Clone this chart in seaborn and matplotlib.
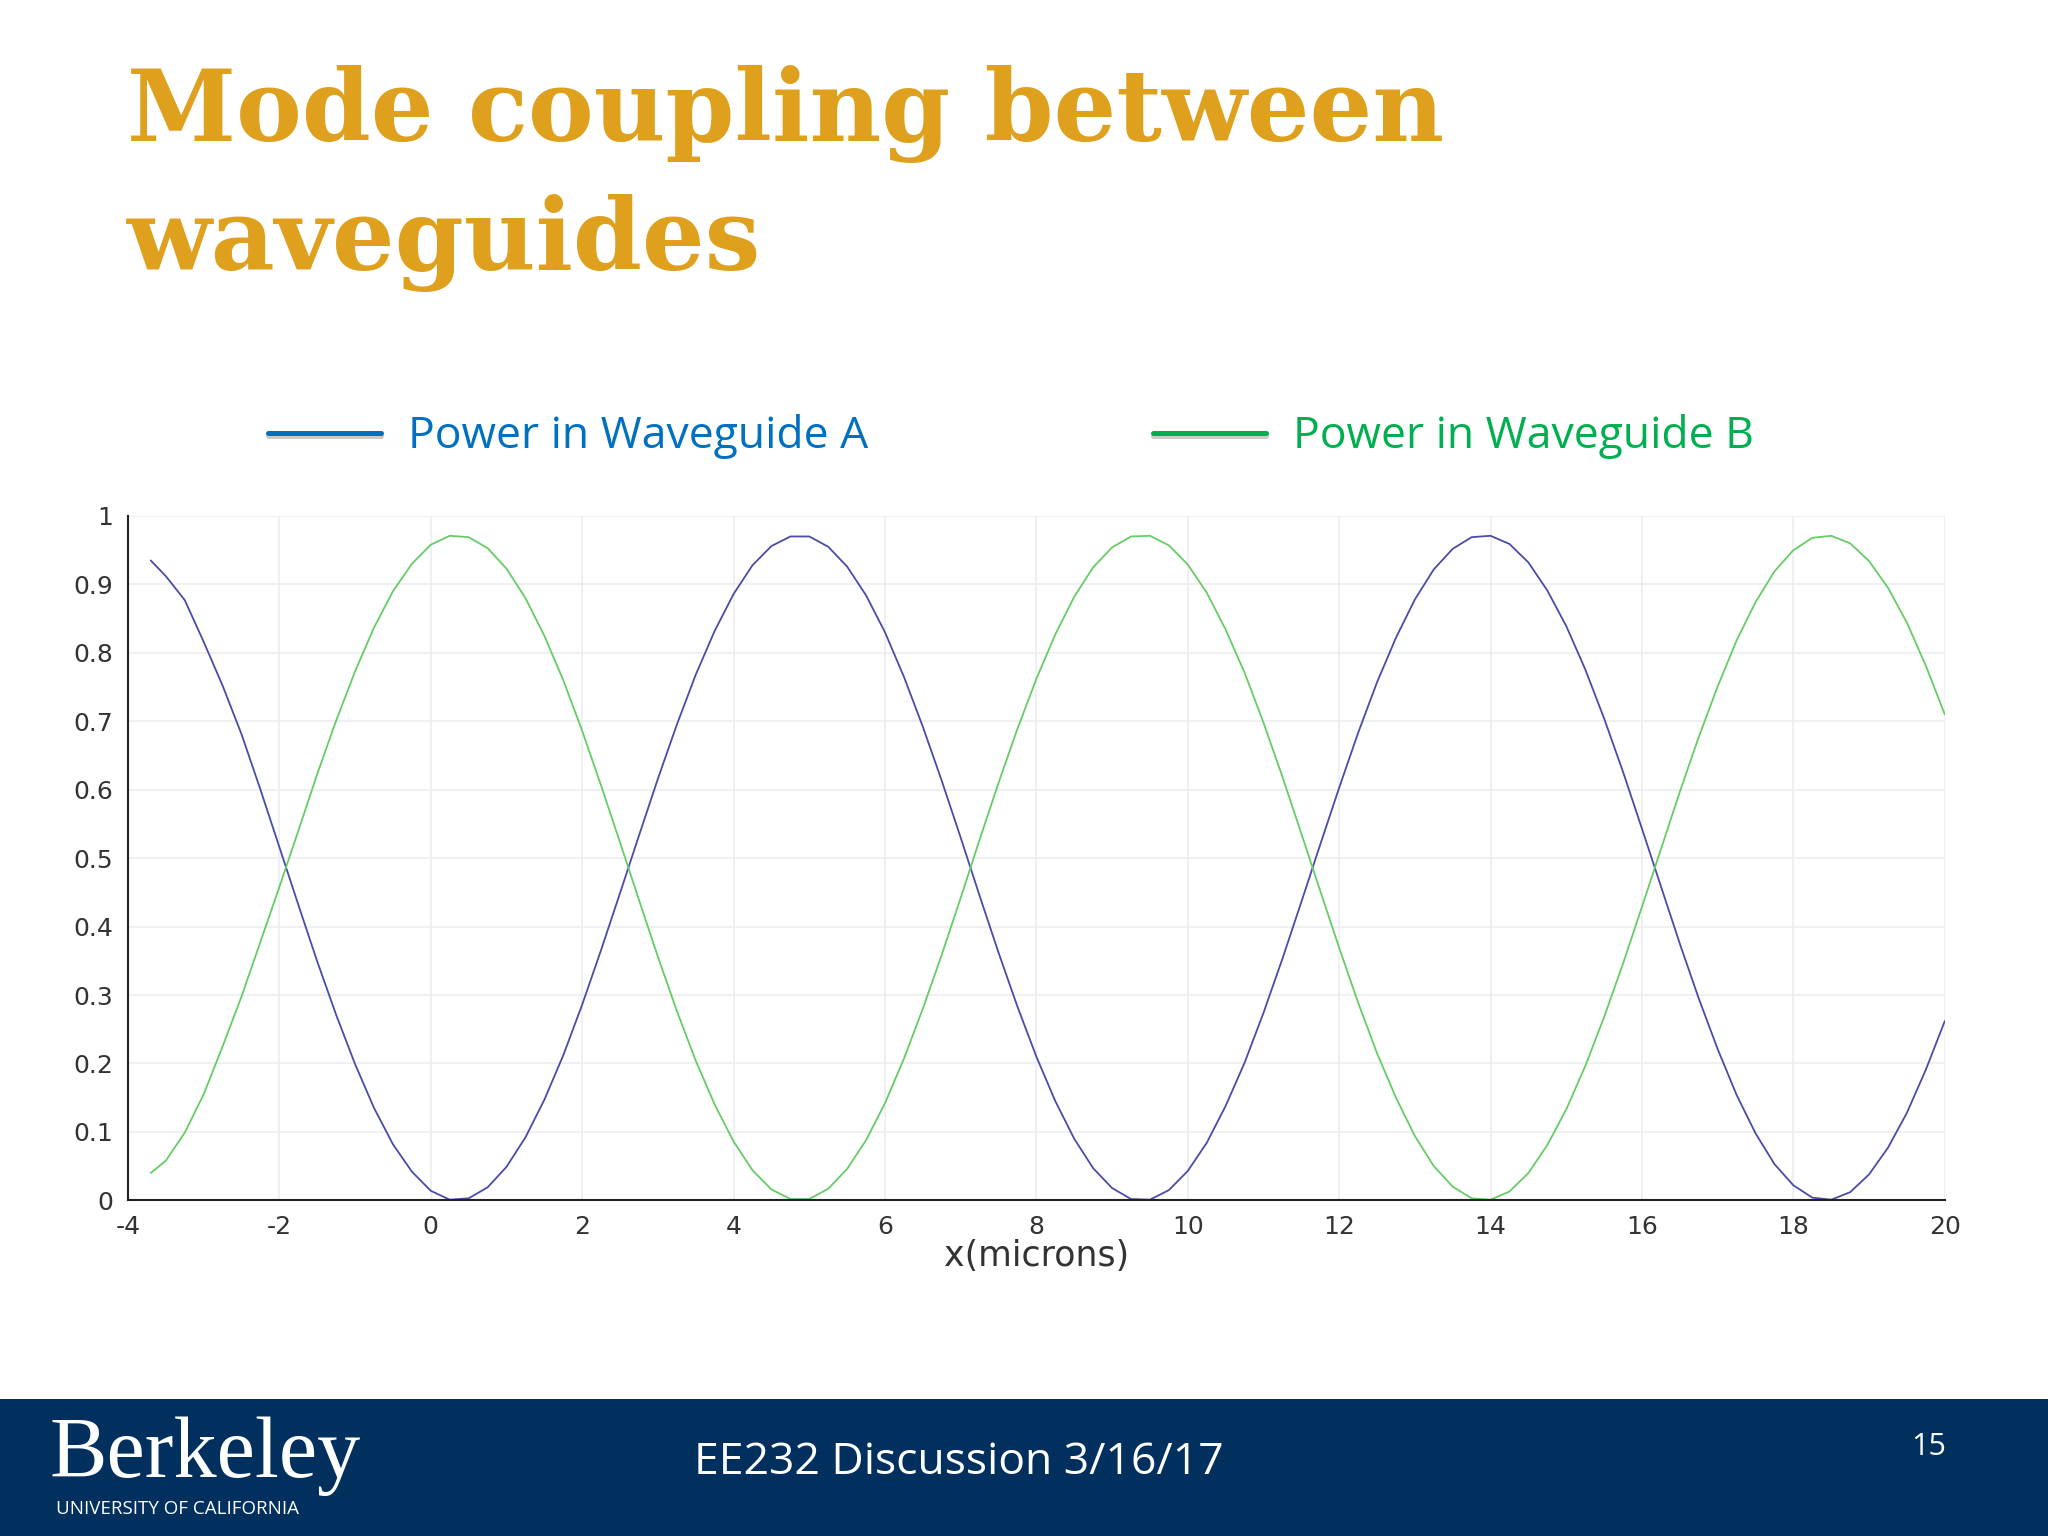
import numpy as np
import pandas as pd
import matplotlib
matplotlib.use("Agg")
import matplotlib.pyplot as plt
import matplotlib.patheffects as pe
from matplotlib.lines import Line2D
from matplotlib.patches import Rectangle
import seaborn as sns

# Data: power in each guide along x (microns)
x_microns = [-3.7, -3.5, -3.25, -3.0, -2.75, -2.5, -2.25, -2.0, -1.75, -1.5, -1.25, -1.0,
             -0.75, -0.5, -0.25, 0.0, 0.25, 0.5, 0.75, 1.0, 1.25, 1.5, 1.75, 2.0,
             2.25, 2.5, 2.75, 3.0, 3.25, 3.5, 3.75, 4.0, 4.25, 4.5, 4.75, 5.0,
             5.25, 5.5, 5.75, 6.0, 6.25, 6.5, 6.75, 7.0, 7.25, 7.5, 7.75, 8.0,
             8.25, 8.5, 8.75, 9.0, 9.25, 9.5, 9.75, 10.0, 10.25, 10.5, 10.75, 11.0,
             11.25, 11.5, 11.75, 12.0, 12.25, 12.5, 12.75, 13.0, 13.25, 13.5, 13.75, 14.0,
             14.25, 14.5, 14.75, 15.0, 15.25, 15.5, 15.75, 16.0, 16.25, 16.5, 16.75, 17.0,
             17.25, 17.5, 17.75, 18.0, 18.25, 18.5, 18.75, 19.0, 19.25, 19.5, 19.75, 20.0]

power_a = [0.935, 0.912, 0.877, 0.816, 0.752, 0.681, 0.600, 0.516, 0.432, 0.349, 0.271, 0.199,
           0.135, 0.082, 0.042, 0.014, 0.001, 0.003, 0.019, 0.049, 0.092, 0.147, 0.212, 0.286,
           0.366, 0.449, 0.533, 0.616, 0.695, 0.768, 0.832, 0.886, 0.928, 0.956, 0.970, 0.970,
           0.955, 0.926, 0.884, 0.830, 0.765, 0.692, 0.613, 0.530, 0.445, 0.362, 0.283, 0.210,
           0.145, 0.090, 0.047, 0.018, 0.002, 0.001, 0.015, 0.043, 0.084, 0.138, 0.201, 0.274,
           0.353, 0.436, 0.520, 0.603, 0.683, 0.757, 0.822, 0.878, 0.922, 0.952, 0.969, 0.971,
           0.959, 0.932, 0.891, 0.839, 0.776, 0.704, 0.626, 0.543, 0.459, 0.375, 0.295, 0.221,
           0.154, 0.098, 0.053, 0.022, 0.004, 0.001, 0.012, 0.038, 0.077, 0.128, 0.191, 0.262]

power_b = [0.040, 0.058, 0.099, 0.155, 0.225, 0.298, 0.378, 0.458, 0.540, 0.623, 0.701, 0.773,
           0.837, 0.890, 0.930, 0.958, 0.971, 0.969, 0.953, 0.923, 0.880, 0.825, 0.760, 0.686,
           0.606, 0.523, 0.439, 0.356, 0.277, 0.204, 0.140, 0.086, 0.044, 0.016, 0.002, 0.002,
           0.017, 0.046, 0.088, 0.142, 0.207, 0.280, 0.359, 0.442, 0.527, 0.610, 0.689, 0.762,
           0.827, 0.882, 0.925, 0.954, 0.970, 0.971, 0.957, 0.929, 0.888, 0.834, 0.771, 0.698,
           0.619, 0.536, 0.452, 0.369, 0.289, 0.215, 0.150, 0.094, 0.050, 0.020, 0.003, 0.001,
           0.013, 0.040, 0.081, 0.133, 0.196, 0.268, 0.346, 0.429, 0.513, 0.597, 0.677, 0.751,
           0.818, 0.874, 0.919, 0.950, 0.968, 0.971, 0.960, 0.934, 0.895, 0.844, 0.781, 0.710]

x_ticks = [-4, -2, 0, 2, 4, 6, 8, 10, 12, 14, 16, 18, 20]
y_ticks = [0, 0.1, 0.2, 0.3, 0.4, 0.5, 0.6, 0.7, 0.8, 0.9, 1]
y_tick_labels = ["0", "0.1", "0.2", "0.3", "0.4", "0.5", "0.6", "0.7", "0.8", "0.9", "1"]
legend_labels = ["Power in Waveguide A", "Power in Waveguide B"]

sns.set_style("white")
plt.rcParams["font.family"] = ["DejaVu Sans"]

df = pd.DataFrame({"x": x_microns, "A": power_a, "B": power_b})

fig = plt.figure(figsize=(20.48, 15.36), dpi=100)
fig.patch.set_facecolor("white")

# title
gold = "#DFA01E"
fig.text(0.062, 0.908, "Mode coupling between", family="DejaVu Serif", weight="bold",
         fontsize=71, color=gold, va="baseline", ha="left")
fig.text(0.062, 0.824, "waveguides", family="DejaVu Serif", weight="bold",
         fontsize=71, color=gold, va="baseline", ha="left")

# plot
ax = fig.add_axes([0.0625, 0.2185, 0.8871, 0.4456])
sns.lineplot(data=df, x="x", y="A", ax=ax, color="#4B4BA8", linewidth=1.3,
             estimator=None, sort=False)
sns.lineplot(data=df, x="x", y="B", ax=ax, color="#66CC66", linewidth=1.3,
             estimator=None, sort=False)

ax.set_xlim(-4, 20)
ax.set_ylim(0, 1)
ax.set_xticks(x_ticks)
ax.set_xticklabels([str(t) for t in x_ticks])
ax.set_yticks(y_ticks)
ax.set_yticklabels(y_tick_labels)
ax.grid(True, color="#ECECF2", linewidth=1.2)
ax.set_axisbelow(True)
for s in ["top", "right"]:
    ax.spines[s].set_visible(False)
for s in ["left", "bottom"]:
    ax.spines[s].set_color("#222222")
    ax.spines[s].set_linewidth(1.5)
ax.tick_params(axis="both", direction="out", length=7, width=1.2,
               colors="#222222", labelsize=18, labelcolor="#333333")
ax.set_xlabel("x(microns)", fontsize=25, color="#333333", labelpad=0)
ax.set_ylabel("")

# legend above the plot
shadow = [pe.SimpleLineShadow(offset=(0, -2.5), shadow_color="#999999", alpha=0.5), pe.Normal()]
handles = [Line2D([], [], color="#0070C0", linewidth=3.6, path_effects=shadow),
           Line2D([], [], color="#00B050", linewidth=3.6, path_effects=shadow)]
fig.legend(handles, legend_labels, loc="center", bbox_to_anchor=(0.4936, 0.7155), ncol=2,
           frameon=False, prop={"family": "Open Sans", "size": 32},
           labelcolor=["#0070C0", "#00B050"], handlelength=2.55, handletextpad=0.6,
           columnspacing=6.4)

# footer band
fig.patches.append(Rectangle((0, 0), 1, 0.0893, transform=fig.transFigure,
                             facecolor="#01305F", edgecolor="none", zorder=0))
fig.text(0.024, 0.0385, "Berkeley", family="Liberation Serif", fontsize=62, color="white",
         va="baseline", ha="left")
fig.text(0.0275, 0.0145, "UNIVERSITY OF CALIFORNIA", family="Open Sans", fontsize=13.5,
         color="white", va="baseline", ha="left")
fig.text(0.3387, 0.0476, "EE232 Discussion 3/16/17", family="Open Sans", fontsize=32,
         color="white", va="center", ha="left")
fig.text(0.933, 0.0578, "15", family="Open Sans", fontsize=22, color="white",
         va="center", ha="left")

fig.savefig("out.png", dpi=100)
